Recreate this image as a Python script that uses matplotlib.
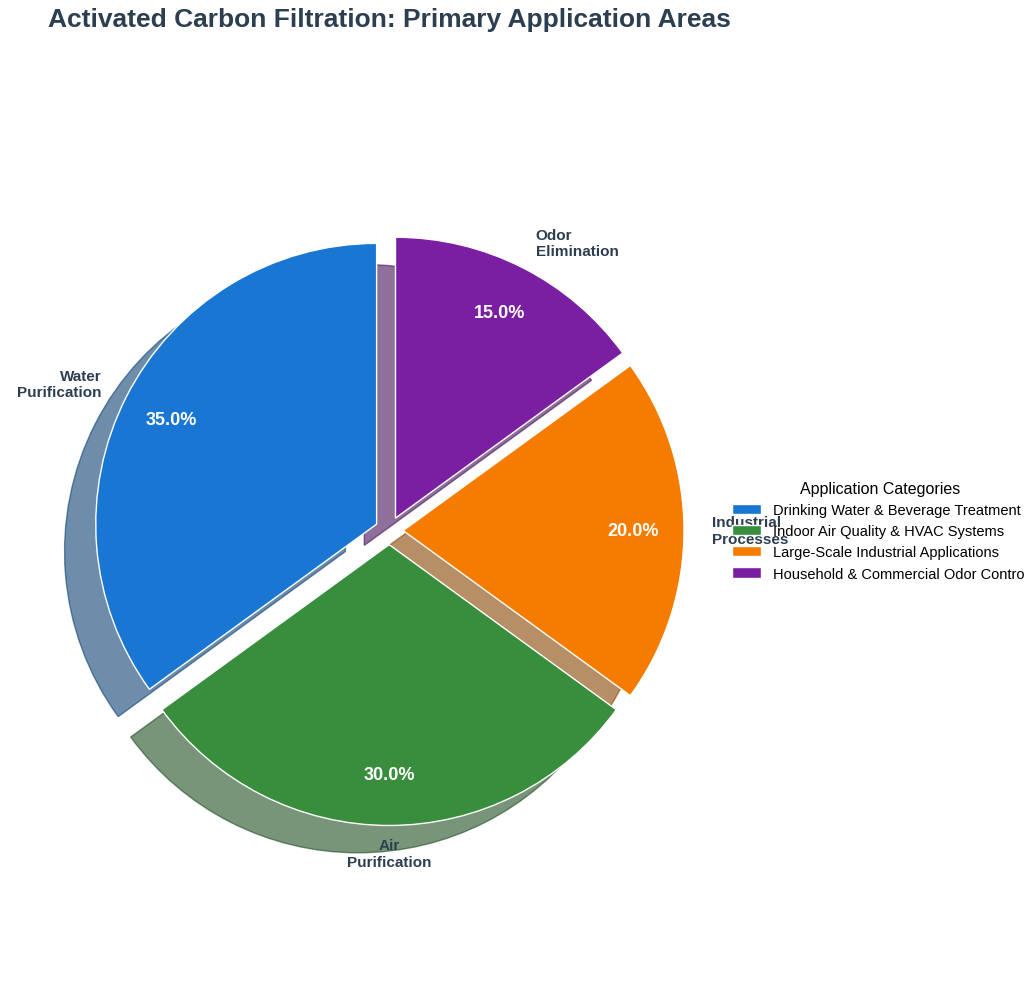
import matplotlib
matplotlib.use("Agg")
import matplotlib.pyplot as plt

plt.rcParams['font.family'] = ['Liberation Sans', 'DejaVu Sans']

labels = ["Water\nPurification", "Air\nPurification", "Industrial\nProcesses", "Odor\nElimination"]
values = [35, 30, 20, 15]
legend_labels = ["Drinking Water & Beverage Treatment", "Indoor Air Quality & HVAC Systems",
                 "Large-Scale Industrial Applications", "Household & Commercial Odor Control"]
colors = ["#1976d2", "#388e3c", "#f57c00", "#7b1fa2"]
explode = [0.05, 0.05, 0.05, 0.05]

fig = plt.figure(figsize=(10.24, 10.03), dpi=100)
ax = fig.add_axes([0.03, 0.12, 0.7, 0.7])
wedges, texts, autotexts = ax.pie(values, labels=labels, colors=colors, explode=explode,
                                  startangle=90, autopct='%1.1f%%',
                                  shadow={'ox': -0.08, 'oy': -0.07, 'shade': 0.45, 'alpha': 0.6},
                                  pctdistance=0.82, labeldistance=1.1,
                                  wedgeprops=dict(edgecolor='white', linewidth=1),
                                  textprops=dict(fontsize=11, fontweight='bold', color='#2c3e50'))
for t in texts:
    t.set_horizontalalignment('center') if t.get_text().startswith("Air") else None
for t in autotexts:
    t.set_color('white'); t.set_fontsize(13); t.set_fontweight('bold')
ax.set_aspect('equal')
leg = ax.legend(wedges, legend_labels, title="Application Categories", loc='center left',
                bbox_to_anchor=(0.97, 0.5), frameon=False, fontsize=10.5, title_fontsize=11.5)
fig.text(0.047, 0.98, "Activated Carbon Filtration: Primary Application Areas",
         fontsize=19, fontweight='bold', color='#2c3e50', va='center')
fig.savefig("out.png", dpi=100)
